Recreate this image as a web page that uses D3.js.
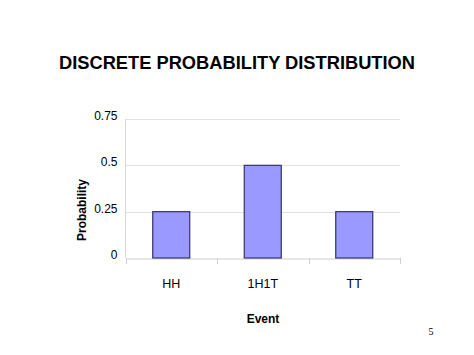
<!DOCTYPE html>
<html><head><meta charset="utf-8">
<script src="https://cdn.jsdelivr.net/npm/d3@7"></script>
<style>body{margin:0;background:#fff}svg{display:block}</style>
</head><body>
<script>
const categories = ["HH", "1H1T", "TT"];
const probabilities = [0.25, 0.5, 0.25];
const yTicks = [0, 0.25, 0.5, 0.75];
const yTickLabels = ["0", "0.25", "0.5", "0.75"];
const titleText = "DISCRETE PROBABILITY DISTRIBUTION";
const xTitle = "Event";
const yTitle = "Probability";
const pageNumber = "5";

const W = 474, H = 355;
const svg = d3.select("body").append("svg").attr("width", W).attr("height", H);
const m = {left: 125.5, right: 400, top: 119, bottom: 258};

const x = d3.scaleBand().domain(categories).range([m.left, m.right]).paddingInner(0).paddingOuter(0);
const y = d3.scaleLinear().domain([0, 0.75]).range([m.bottom, m.top]);

// gridlines
svg.append("g").selectAll("line").data(yTicks.slice(1)).join("line")
  .attr("x1", m.left).attr("x2", m.right)
  .attr("y1", d => Math.round(y(d)) + 0.5).attr("y2", d => Math.round(y(d)) + 0.5)
  .attr("stroke", "#e0e0e0").attr("stroke-width", 1);

// left axis line
svg.append("line").attr("x1", m.left).attr("x2", m.left)
  .attr("y1", m.top).attr("y2", m.bottom).attr("stroke", "#d8d8d8");

// bottom axis
const xAxis = d3.axisBottom(x).tickSize(0).tickFormat("");
const gx = svg.append("g").attr("transform", `translate(0,${m.bottom + 0.5})`).call(xAxis);
gx.select(".domain").attr("stroke", "#cfcfcf");
// category boundary ticks
const bounds = [m.left].concat(categories.map(c => x(c) + x.bandwidth()));
svg.append("g").selectAll("line").data(bounds).join("line")
  .attr("x1", d => Math.round(d) + 0.5).attr("x2", d => Math.round(d) + 0.5)
  .attr("y1", m.bottom).attr("y2", m.bottom + 6).attr("stroke", "#cfcfcf");

// y tick labels
const gy = svg.append("g").attr("transform", `translate(${m.left},0)`)
  .call(d3.axisLeft(y).tickValues(yTicks).tickSize(0).tickPadding(8)
    .tickFormat((d, i) => yTickLabels[i]));
gy.select(".domain").remove();
gy.selectAll("text").attr("font-family", "Liberation Sans, Arial, sans-serif")
  .attr("font-size", 12).attr("fill", "#000").attr("dy", "0.05em");

// x labels
svg.append("g").selectAll("text").data(categories).join("text")
  .attr("x", d => x(d) + x.bandwidth() / 2).attr("y", 288)
  .attr("text-anchor", "middle").attr("font-family", "Liberation Sans, Arial, sans-serif")
  .attr("font-size", 12.5).text(d => d);

// bars
const barW = 37;
svg.append("g").selectAll("rect").data(probabilities).join("rect")
  .attr("x", (d, i) => x(categories[i]) + x.bandwidth() / 2 - barW / 2)
  .attr("y", d => y(d))
  .attr("width", barW)
  .attr("height", d => y(0) - y(d))
  .attr("fill", "#9999ff").attr("stroke", "#333366").attr("stroke-width", 1.2);

// title
svg.append("text").attr("x", 237).attr("y", 69).attr("text-anchor", "middle")
  .attr("font-family", "Liberation Sans, Arial, sans-serif").attr("font-weight", "bold")
  .attr("font-size", 18).attr("textLength", 356).attr("lengthAdjust", "spacingAndGlyphs")
  .text(titleText);

// axis titles
svg.append("text").attr("transform", "translate(86,210) rotate(-90)")
  .attr("text-anchor", "middle").attr("font-family", "Liberation Sans, Arial, sans-serif")
  .attr("font-weight", "bold").attr("font-size", 12).text(yTitle);
svg.append("text").attr("x", 263).attr("y", 323).attr("text-anchor", "middle")
  .attr("font-family", "Liberation Sans, Arial, sans-serif")
  .attr("font-weight", "bold").attr("font-size", 12).text(xTitle);

svg.append("text").attr("x", 431).attr("y", 335).attr("text-anchor", "middle")
  .attr("font-family", "Liberation Serif, Times New Roman, serif")
  .attr("font-size", 10).text(pageNumber);
</script>
</body></html>
